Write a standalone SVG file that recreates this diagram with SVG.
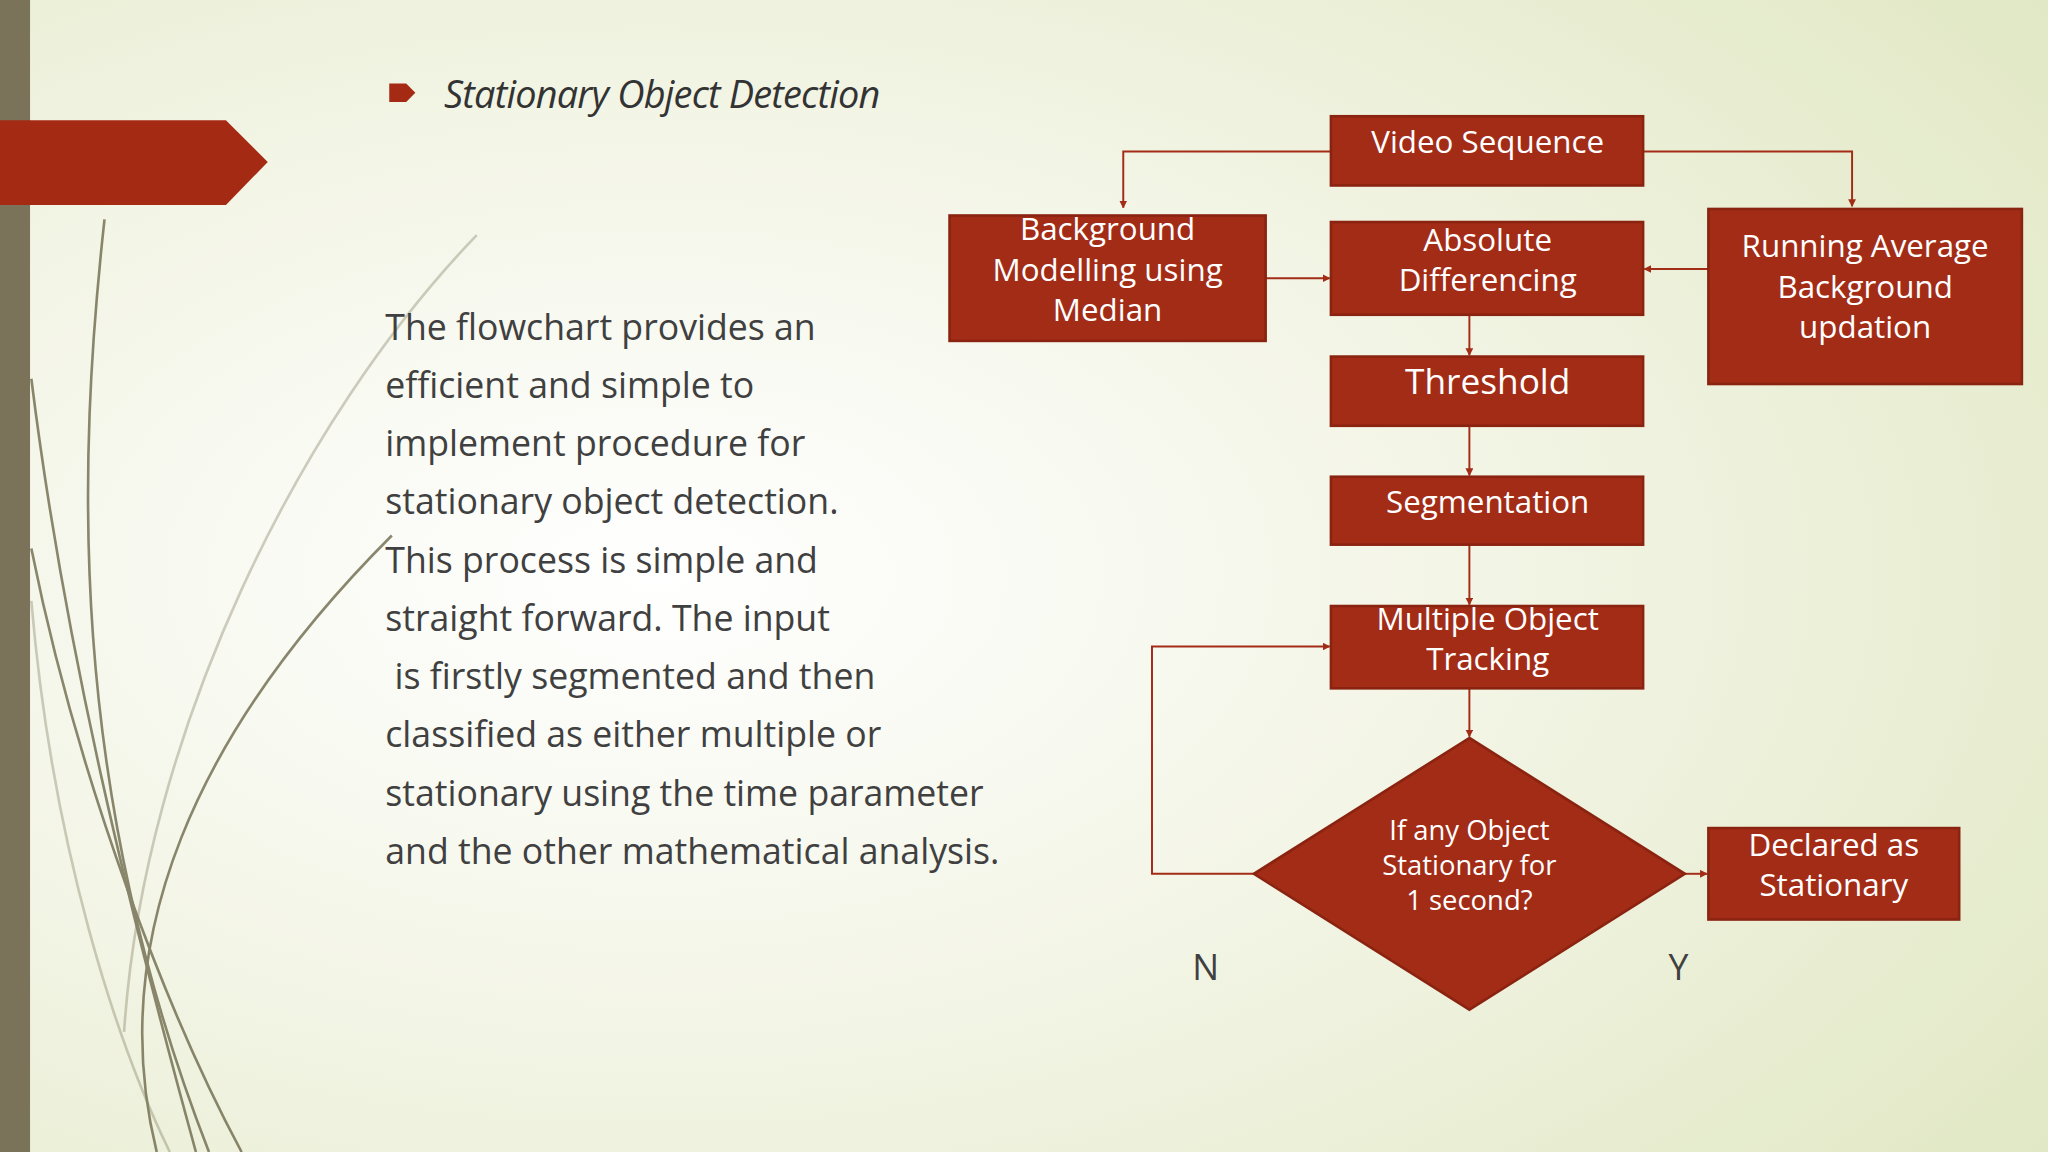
<svg xmlns="http://www.w3.org/2000/svg" width="2048" height="1152" viewBox="0 0 2048 1152">
<defs>
<radialGradient id="bg" cx="0.32" cy="0.5" r="0.85">
<stop offset="0" stop-color="#ffffff"/><stop offset="0.5" stop-color="#f2f4e4"/><stop offset="1" stop-color="#e1e8c4"/>
</radialGradient>
<marker id="ar" viewBox="0 0 10 10" refX="9" refY="5" markerWidth="4" markerHeight="4" orient="auto"><path d="M0,0L10,5L0,10z" fill="#a32c17"/></marker>
<style>
.b{fill:#a32c17;stroke:#8a2310;stroke-width:2}
.t{font-family:"Open Sans","Noto Sans",sans-serif;fill:#fff;text-anchor:middle;font-size:24px}
.s{font-size:21px}
.c{fill:none;stroke:#a32c17;stroke-width:1.5;marker-end:url(#ar)}
.p{font-family:"Open Sans","Noto Sans",sans-serif;fill:#404040;font-size:27.3px}
.d{fill:none;stroke:#6e6a4c;stroke-width:2}
</style>
</defs>
<rect width="2048" height="1152" fill="url(#bg)"/>
<g transform="scale(1.30612)">
<rect x="0" y="0" width="23" height="882" fill="#7a7259"/>
<g opacity="0.8">
<path class="d" d="M80,168 C60,350 50,600 160,882"/>
<path class="d" d="M24,290 C50,500 100,700 150,882"/>
<path class="d" d="M300,410 C150,560 80,720 120,882" />
<path class="d" d="M24,420 C60,600 130,780 185,882"/>
<path class="d" d="M365,180 C230,320 110,560 95,790" opacity="0.4"/>
<path class="d" d="M24,460 C40,650 90,800 130,882" opacity="0.4"/>
</g>
<path d="M0,92H173L205,124L173,157H0Z" fill="#a52a14"/>
<path d="M298,64H311L318,71L311,78H298Z" fill="#a52a14"/>
<text x="340" y="83" font-family="'Open Sans','Noto Sans',sans-serif" font-style="italic" font-size="29" fill="#333" letter-spacing="-0.6">Stationary Object Detection</text>
<text class="p"><tspan x="295" y="260">The flowchart provides an</tspan><tspan x="295" y="304.6">efficient and simple to</tspan><tspan x="295" y="349.2">implement procedure for</tspan><tspan x="295" y="393.8">stationary object detection.</tspan><tspan x="295" y="438.4">This process is simple and</tspan><tspan x="295" y="483">straight forward. The input</tspan><tspan x="295" y="527.6"> is firstly segmented and then</tspan><tspan x="295" y="572.2">classified as either multiple or</tspan><tspan x="295" y="616.8">stationary using the time parameter</tspan><tspan x="295" y="661.4">and the other mathematical analysis.</tspan></text>
<g id="connectors">
<path class="c" d="M1019,116H860V159"/>
<path class="c" d="M1258,116H1418V158"/>
<path class="c" d="M969,213H1018"/>
<path class="c" d="M1308,206H1259"/>
<path class="c" d="M1125,241V272"/>
<path class="c" d="M1125,326V364"/>
<path class="c" d="M1125,417V463"/>
<path class="c" d="M1125,527V564"/>
<path class="c" d="M1290,669H1307"/>
<path class="c" d="M960,669H882V495H1018"/>
</g>
<g id="video"><rect class="b" x="1019" y="89" width="239" height="53"/><text class="t" x="1139" y="117">Video Sequence</text></g>
<g id="bgmodel"><rect class="b" x="727" y="165" width="242" height="96"/><text class="t" x="848" y="184">Background</text><text class="t" x="848" y="215">Modelling using</text><text class="t" x="848" y="246">Median</text></g>
<g id="absdiff"><rect class="b" x="1019" y="170" width="239" height="71"/><text class="t" x="1139" y="192">Absolute</text><text class="t" x="1139" y="223">Differencing</text></g>
<g id="running"><rect class="b" x="1308" y="160" width="240" height="134"/><text class="t" x="1428" y="197">Running Average</text><text class="t" x="1428" y="228">Background</text><text class="t" x="1428" y="259">updation</text></g>
<g id="threshold"><rect class="b" x="1019" y="273" width="239" height="53"/><text class="t" x="1139" y="302" style="font-size:27px">Threshold</text></g>
<g id="seg"><rect class="b" x="1019" y="365" width="239" height="52"/><text class="t" x="1139" y="393">Segmentation</text></g>
<g id="mot"><rect class="b" x="1019" y="464" width="239" height="63"/><text class="t" x="1139" y="482">Multiple Object</text><text class="t" x="1139" y="513">Tracking</text></g>
<g id="decision"><path class="b" d="M1125,565L1290,669L1125,773L960,669Z"/><text class="t s" x="1125" y="643">If any Object</text><text class="t s" x="1125" y="670">Stationary for</text><text class="t s" x="1125" y="697">1 second?</text></g>
<g id="declared"><rect class="b" x="1308" y="634" width="192" height="70"/><text class="t" x="1404" y="655">Declared as</text><text class="t" x="1404" y="686">Stationary</text></g>
<text class="p" x="923" y="750" text-anchor="middle">N</text>
<text class="p" x="1285" y="750" text-anchor="middle">Y</text>
</g>
</svg>
